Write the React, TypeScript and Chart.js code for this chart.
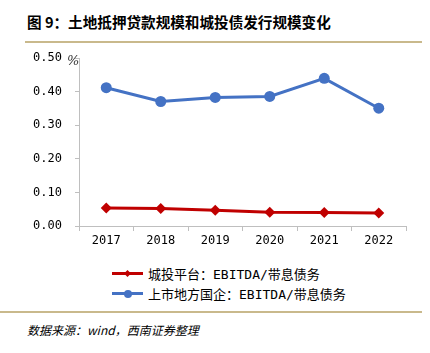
import React, { useEffect, useRef } from "react";
import { Chart, registerables } from "chart.js";

Chart.register(...registerables);

const categories = ["2017", "2018", "2019", "2020", "2021", "2022"];
const chengtouValues = [0.054, 0.052, 0.047, 0.041, 0.040, 0.039];
const guoqiValues = [0.412, 0.371, 0.383, 0.386, 0.440, 0.351];
const seriesNames = ["城投平台：EBITDA/带息债务", "上市地方国企：EBITDA/带息债务"];
const titleText = "图 9：土地抵押贷款规模和城投债发行规模变化";
const sourceText = "数据来源：wind，西南证券整理";

const RED = "#C00000";
const BLUE = "#4472C4";
const GOLD = "#C9B98C";
const MONO = "'DejaVu Sans Mono', monospace";

export default function App() {
  const ref = useRef<HTMLCanvasElement | null>(null);

  useEffect(() => {
    if (!ref.current) return;
    const chart = new Chart(ref.current, {
      type: "line",
      data: {
        labels: categories,
        datasets: [
          {
            label: seriesNames[0],
            data: chengtouValues,
            borderColor: RED,
            backgroundColor: RED,
            borderWidth: 3,
            pointStyle: "rectRot",
            pointRadius: 5.5,
            pointBorderWidth: 0,
            tension: 0,
          },
          {
            label: seriesNames[1],
            data: guoqiValues,
            borderColor: BLUE,
            backgroundColor: BLUE,
            borderWidth: 3,
            pointStyle: "circle",
            pointRadius: 5.5,
            pointBorderWidth: 0,
            tension: 0,
          },
        ],
      },
      options: {
        animation: false,
        responsive: false,
        maintainAspectRatio: false,
        layout: { padding: { top: 5, right: 14, left: 0, bottom: 0 } },
        plugins: { legend: { display: false }, tooltip: { enabled: false } },
        scales: {
          x: {
            offset: true,
            grid: {
              offset: true,
              drawOnChartArea: false,
              drawTicks: true,
              tickLength: 5,
              color: "#BFBFBF",
            },
            border: { color: "#BFBFBF", width: 1 },
            ticks: { color: "#000", font: { family: MONO, size: 12 }, padding: 3 },
            afterFit: (s: any) => {
              s.height = 24;
            },
          },
          y: {
            min: 0,
            max: 0.5,
            grid: { drawOnChartArea: false, tickLength: 4, color: "#BFBFBF" },
            border: { color: "#BFBFBF", width: 1 },
            ticks: {
              stepSize: 0.1,
              color: "#000",
              font: { family: MONO, size: 12 },
              padding: 13,
              callback: (v: any) => Number(v).toFixed(2),
            },
            afterFit: (s: any) => {
              s.width = 79;
            },
          },
        },
      },
    });
    return () => chart.destroy();
  }, []);

  const legendRow = (color: string, marker: "diamond" | "circle", text: string, top: number) => (
    <div style={{ position: "absolute", left: 112, top: top - 9, height: 18, display: "flex", alignItems: "center" }}>
      <div style={{ position: "relative", width: 31, height: 18 }}>
        <div style={{ position: "absolute", left: 0, top: 8, width: 31, height: 3, background: color }} />
        <div
          style={
            marker === "diamond"
              ? { position: "absolute", left: 13, top: 6.5, width: 5, height: 5, background: color, transform: "rotate(45deg)" }
              : { position: "absolute", left: 12, top: 5.5, width: 8, height: 8, borderRadius: "50%", background: color }
          }
        />
      </div>
      <span style={{ marginLeft: 5, fontSize: 13, color: "#000", fontFamily: "'DejaVu Sans Mono', 'Noto Sans CJK SC', sans-serif", whiteSpace: "nowrap" }}>
        {text}
      </span>
    </div>
  );

  return (
    <div style={{ position: "absolute", left: 0, top: 0, width: 430, height: 353, background: "#fff", overflow: "hidden" }}>
      <div
        style={{
          position: "absolute",
          left: 27,
          top: 12,
          fontFamily: "'Noto Sans CJK SC', sans-serif",
          fontWeight: 700,
          fontSize: 14.6,
          lineHeight: "20px",
          whiteSpace: "nowrap",
          color: "#000",
        }}
      >
        {titleText}
      </div>
      <div style={{ position: "absolute", left: 25, top: 41, width: 397, height: 2, background: GOLD }} />
      <canvas ref={ref} width={420} height={212} style={{ position: "absolute", left: 0, top: 38, width: 420, height: 212 }} />
      <div style={{ position: "absolute", left: 67, top: 53, fontFamily: "'DejaVu Serif', serif", fontStyle: "italic", fontSize: 13, color: "#333" }}>%</div>
      {legendRow(RED, "diamond", seriesNames[0], 273)}
      {legendRow(BLUE, "circle", seriesNames[1], 293)}
      <div style={{ position: "absolute", left: 0, top: 311, width: 422, height: 2, background: GOLD }} />
      <div
        style={{
          position: "absolute",
          left: 27,
          top: 321,
          fontFamily: "'Noto Sans CJK SC', sans-serif",
          fontStyle: "italic",
          fontSize: 12,
          lineHeight: "18px",
          whiteSpace: "nowrap",
          color: "#000",
        }}
      >
        {sourceText}
      </div>
    </div>
  );
}
